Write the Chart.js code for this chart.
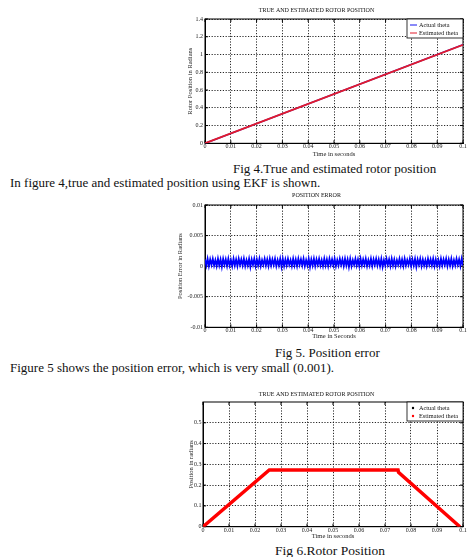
<!DOCTYPE html>
<html>
<head>
<meta charset="utf-8">
<script src="https://cdn.jsdelivr.net/npm/chart.js@4.4.0/dist/chart.umd.min.js"></script>
<style>
body { margin: 0; background: #fff; width: 474px; height: 557px; position: relative; overflow: hidden; font-family: "Liberation Serif", serif; }
canvas, .txt { position: absolute; }
.txt { font-size: 13px; line-height: 15px; white-space: nowrap; color: #111; }
</style>
</head>
<body>
<canvas id="fig4" width="300" height="160" style="left:170px;top:0px"></canvas>
<div class="txt" style="left:233px;top:161px">Fig 4.True and estimated rotor position</div>
<div class="txt" style="left:10px;top:175px">In figure 4,true and estimated position using EKF is shown.</div>
<canvas id="fig5" width="300" height="154" style="left:170px;top:188px"></canvas>
<div class="txt" style="left:275px;top:345px">Fig 5. Position error</div>
<div class="txt" style="left:10px;top:360px">Figure 5 shows the position error, which is very small (0.001).</div>
<canvas id="fig6" width="300" height="162" style="left:170px;top:380px"></canvas>
<div class="txt" style="left:275px;top:543px;font-size:13.5px">Fig 6.Rotor Position</div>
<script>
const timeTicks = [0, 0.01, 0.02, 0.03, 0.04, 0.05, 0.06, 0.07, 0.08, 0.09, 0.1];

// fig 4: true and estimated rotor position
const fig4Time = [0, 0.1];
const fig4Actual = [0, 1.11];
const fig4Estimated = [0, 1.11];
const fig4YTicks = [0, 0.2, 0.4, 0.6, 0.8, 1, 1.2, 1.4];

// fig 5: position error
const fig5Error = [
    0.0011, 0.0001, 0.0012, 0.0000, 0.0011, 0.0002, 0.0012, 0.0001, 0.0010, 0.0000, 0.0012, 0.0001, 0.0011, -0.0001, 0.0012, 0.0002, 0.0011, 0.0000, 0.0012, 0.0001,
    0.0010, 0.0000, 0.0012, 0.0001, 0.0011, 0.0000, 0.0012, 0.0002, 0.0011, 0.0001, 0.0012, 0.0000, 0.0010, 0.0001, 0.0012, -0.0001, 0.0011, 0.0002, 0.0012, 0.0000,
    0.0011, 0.0001, 0.0012, 0.0000, 0.0010, 0.0002, 0.0012, 0.0001, 0.0011, 0.0000, 0.0012, 0.0001, 0.0011, 0.0002, 0.0012, 0.0000, 0.0010, 0.0001, 0.0012, -0.0001,
    0.0012, 0.0000, 0.0011, 0.0001, 0.0012, 0.0002, 0.0010, 0.0000, 0.0012, 0.0001, 0.0011, 0.0000, 0.0012, 0.0002, 0.0011, 0.0001, 0.0012, 0.0000, 0.0010, 0.0001,
    0.0012, -0.0001, 0.0011, 0.0001, 0.0012, 0.0000, 0.0011, 0.0002, 0.0012, 0.0001, 0.0010, 0.0000, 0.0012, 0.0001, 0.0011, 0.0000, 0.0012, 0.0002, 0.0011, 0.0001,
    0.0012, 0.0000, 0.0010, 0.0001, 0.0012, 0.0002, 0.0011, 0.0000, 0.0012, 0.0001, 0.0011, -0.0001, 0.0012, 0.0000, 0.0010, 0.0002, 0.0012, 0.0001, 0.0011, 0.0000,
    0.0012, 0.0001, 0.0011, 0.0002, 0.0012, 0.0000, 0.0010, 0.0001, 0.0012, 0.0000, 0.0011, 0.0002, 0.0012, 0.0001, 0.0011, 0.0000, 0.0012, -0.0001, 0.0010, 0.0001,
    0.0012, 0.0002, 0.0011, 0.0000, 0.0012, 0.0001, 0.0011, 0.0000, 0.0010, 0.0002, 0.0012, 0.0001, 0.0011, 0.0000, 0.0012, 0.0001, 0.0010, 0.0002, 0.0012, 0.0000,
    0.0011, 0.0001, 0.0012, -0.0001, 0.0011, 0.0002, 0.0012, 0.0000, 0.0011, 0.0001, 0.0010, 0.0000, 0.0012, 0.0002, 0.0011, 0.0001, 0.0012, 0.0000, 0.0011, 0.0001,
    0.0010, 0.0000, 0.0012, 0.0001, 0.0011, 0.0002, 0.0012, 0.0000, 0.0011, 0.0001, 0.0012, 0.0000, 0.0010, 0.0001, 0.0012, 0.0002, 0.0011, 0.0000, 0.0012, 0.0001
];
const fig5YTicks = [-0.01, -0.005, 0, 0.005, 0.01];

// fig 6: rotor position (trapezoid)
const fig6Time = [0, 0.0255, 0.075, 0.0752, 0.0988];
const fig6Actual = [0, 0.273, 0.273, 0.262, 0];
const fig6Estimated = [0, 0.273, 0.273, 0.262, 0];
const fig6YTicks = [0, 0.1, 0.2, 0.3, 0.4, 0.5];

Chart.defaults.font.family = '"Liberation Serif", serif';

const toPoints = (xs, ys) => ys.map((y, i) => ({x: xs[i], y: y}));
// sample instants of the error signal, spread over 0..0.1 s
const fig5Time = fig5Error.map((v, i) => i * 0.1 / (fig5Error.length - 1));

// box round the plot with small inward ticks, like matlab
const frame = {
    id: 'frame',
    beforeDatasetsDraw(chart) {
        const {ctx, chartArea: a, scales} = chart;
        ctx.save();
        ctx.strokeStyle = '#000';
        ctx.lineWidth = 1;
        ctx.strokeRect(a.left, a.top, a.right - a.left, a.bottom - a.top);
        ctx.beginPath();
        scales.x.ticks.forEach(t => {
            const px = scales.x.getPixelForValue(t.value);
            ctx.moveTo(px, a.bottom); ctx.lineTo(px, a.bottom - 3);
            ctx.moveTo(px, a.top); ctx.lineTo(px, a.top + 3);
        });
        scales.y.ticks.forEach(t => {
            const py = scales.y.getPixelForValue(t.value);
            ctx.moveTo(a.left, py); ctx.lineTo(a.left + 3, py);
            ctx.moveTo(a.right, py); ctx.lineTo(a.right - 3, py);
        });
        ctx.stroke();
        ctx.restore();
    }
};

// legend box inside the top right corner
const insideLegend = {
    id: 'insideLegend',
    afterDatasetsDraw(chart, args, opts) {
        if (!opts.display) return;
        const {ctx, chartArea} = chart;
        const sets = chart.data.datasets;
        const w = opts.width, h = 8 * sets.length + 3;
        const x = chartArea.right - w, y = chartArea.top;
        ctx.save();
        ctx.fillStyle = '#fff';
        ctx.fillRect(x, y, w, h);
        ctx.strokeStyle = '#000';
        ctx.lineWidth = 0.8;
        ctx.strokeRect(x, y, w, h);
        ctx.font = '6.3px "Liberation Serif"';
        ctx.textBaseline = 'middle';
        sets.forEach((ds, i) => {
            const cy = y + 6 + i * 8;
            if (opts.marker === 'dot') {
                ctx.fillStyle = ds.borderColor;
                ctx.beginPath();
                ctx.arc(x + 6, cy, 1.2, 0, 2 * Math.PI);
                ctx.fill();
            } else {
                ctx.strokeStyle = ds.borderColor;
                ctx.lineWidth = 1;
                ctx.beginPath();
                ctx.moveTo(x + 3, cy);
                ctx.lineTo(x + 10, cy);
                ctx.stroke();
            }
            ctx.fillStyle = '#111';
            ctx.fillText(ds.label, x + 12, cy);
        });
        ctx.restore();
    }
};

function makeChart(id, datasets, o) {
    return new Chart(document.getElementById(id), {
        type: 'line',
        data: {datasets: datasets},
        plugins: [frame, insideLegend],
        options: {
            responsive: false,
            animation: false,
            layout: {padding: {left: 0, right: 7, top: 0, bottom: o.padBottom}},
            elements: {point: {radius: 0}, line: {tension: 0}},
            plugins: {
                legend: {display: false},
                tooltip: {enabled: false},
                title: {
                    display: true, text: o.title, color: '#111',
                    font: {size: 6, weight: 'normal'},
                    padding: {top: o.titleTop, bottom: o.titleBottom}
                },
                insideLegend: o.legend || {display: false}
            },
            scales: {
                x: {
                    type: 'linear', min: 0, max: 0.1,
                    afterBuildTicks: s => { s.ticks = timeTicks.map(v => ({value: v})); },
                    afterFit: s => { s.height = o.xHeight; },
                    ticks: {font: {size: 6}, color: '#222', padding: 0, maxRotation: 0, autoSkip: false, callback: v => String(v)},
                    grid: {color: '#111', lineWidth: 0.9, drawTicks: false},
                    border: {color: '#000', width: 1, dash: [1.2, 1.6]},
                    title: {display: true, text: o.xTitle, color: '#222', font: {size: 6.5}, padding: {top: 0, bottom: 0.4}}
                },
                y: {
                    type: 'linear', min: o.yMin, max: o.yMax,
                    afterBuildTicks: s => { s.ticks = o.yTicks.map(v => ({value: v})); },
                    afterFit: s => { s.width = o.yWidth; },
                    ticks: {font: {size: 6}, color: '#222', padding: o.yTickPad, autoSkip: false, callback: v => String(v)},
                    grid: {color: '#111', lineWidth: 0.9, drawTicks: false},
                    border: {color: '#000', width: 1, dash: [1.2, 1.6]},
                    title: {display: true, text: o.yTitle, color: '#222', font: {size: 6.5}, padding: {top: o.yTitlePad, bottom: 0}}
                }
            }
        }
    });
}

window.onload = function() {
    makeChart('fig4', [
        {label: 'Actual theta', data: toPoints(fig4Time, fig4Actual), borderColor: '#1414f0', borderWidth: 1.6, order: 1},
        {label: 'Estimated theta', data: toPoints(fig4Time, fig4Estimated), borderColor: '#e31b2b', borderWidth: 1.8, order: 0}
    ], {
        title: 'TRUE AND ESTIMATED ROTOR POSITION', titleTop: 7, titleBottom: 4.8,
        xTitle: 'Time in seconds', xHeight: 15, padBottom: 1.7,
        yTitle: 'Rotor Position in Radians', yMin: 0, yMax: 1.4, yTicks: fig4YTicks,
        yWidth: 35, yTickPad: 2, yTitlePad: 16,
        legend: {display: true, marker: 'line', width: 56}
    });

    makeChart('fig5', [
        {label: 'Position error', data: toPoints(fig5Time, fig5Error), borderColor: '#0000ff', borderWidth: 1.8}
    ], {
        title: 'POSITION ERROR', titleTop: 3.4, titleBottom: 6.4,
        xTitle: 'Time in Seconds', xHeight: 13.7, padBottom: 1,
        yTitle: 'Position Error in Radians', yMin: -0.01, yMax: 0.01, yTicks: fig5YTicks,
        yWidth: 35, yTickPad: 2, yTitlePad: 6
    });

    makeChart('fig6', [
        {label: 'Actual theta', data: toPoints(fig6Time, fig6Actual), borderColor: '#000000', borderWidth: 1, order: 1},
        {label: 'Estimated theta', data: toPoints(fig6Time, fig6Estimated), borderColor: '#ff0000', borderWidth: 3.5, order: 0}
    ], {
        title: 'TRUE AND ESTIMATED ROTOR POSITION', titleTop: 10.4, titleBottom: 4.4,
        xTitle: 'Time in seconds', xHeight: 14, padBottom: 1.3,
        yTitle: 'Position in radians', yMin: 0, yMax: 0.6, yTicks: fig6YTicks,
        yWidth: 33, yTickPad: 1.5, yTitlePad: 17,
        legend: {display: true, marker: 'dot', width: 56}
    });
};
</script>
</body>
</html>
